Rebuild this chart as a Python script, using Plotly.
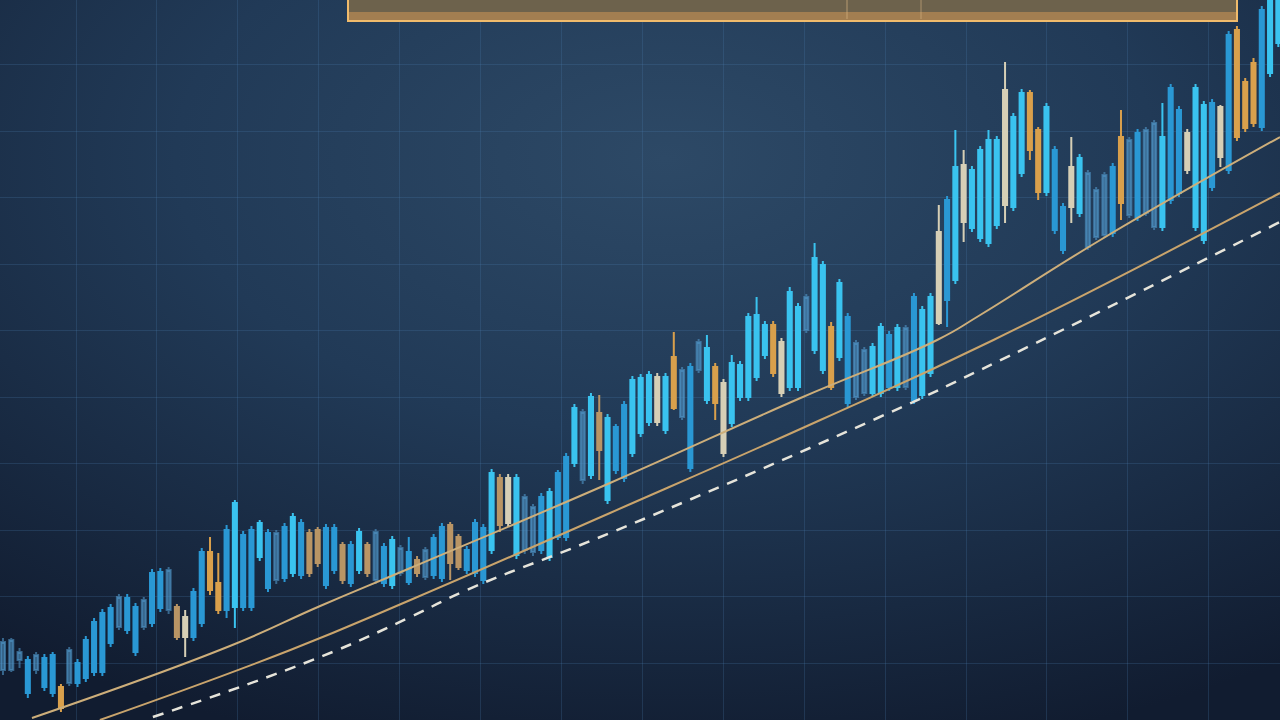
import base64
import plotly.graph_objects as go

# ---------------- data (price units) ----------------
opens = [50, 50, 60, 27, 50, 33, 27, 12, 37, 37,
         42, 48, 48, 77, 93, 90, 68, 93, 97, 112,
         110, 83, 83, 83, 97, 130, 110, 110, 113, 113,
         113, 163, 132, 140, 142, 147, 145, 147, 157, 135,
         150, 140, 137, 150, 147, 140, 137, 135, 147, 138,
         147, 143, 145, 142, 157, 153, 150, 147, 140, 170,
         195, 197, 165, 170, 168, 170, 163, 183, 183, 257,
         240, 245, 270, 220, 250, 242, 267, 287, 298, 298,
         290, 312, 303, 252, 350, 320, 317, 267, 297, 323,
         323, 343, 365, 347, 327, 333, 333, 390, 370, 350,
         333, 363, 317, 323, 327, 327, 327, 333, 333, 333,
         320, 325, 347, 397, 420, 440, 498, 492, 482, 477,
         495, 515, 513, 547, 570, 528, 528, 490, 470, 513,
         507, 473, 483, 485, 487, 517, 505, 503, 507, 493,
         493, 520, 527, 550, 493, 480, 533, 563, 550, 583,
         592, 597, 593, 647, 677]
closes = [78, 80, 68, 60, 65, 62, 65, 33, 70, 57,
          80, 98, 107, 112, 123, 122, 113, 120, 147, 148,
          150, 113, 103, 128, 168, 168, 137, 190, 217, 185,
          190, 197, 187, 187, 193, 203, 197, 187, 190, 192,
          192, 175, 175, 188, 175, 188, 173, 180, 172, 168,
          160, 170, 182, 193, 195, 183, 170, 197, 192, 247,
          242, 242, 242, 223, 213, 223, 228, 247, 263, 312,
          308, 323, 307, 302, 293, 315, 340, 342, 345, 343,
          343, 363, 350, 353, 378, 372, 353, 337, 357, 355,
          403, 405, 395, 395, 378, 428, 413, 423, 462, 455,
          393, 437, 403, 377, 370, 373, 393, 385, 392, 392,
          423, 410, 423, 488, 520, 553, 555, 550, 570, 580,
          580, 630, 603, 627, 627, 590, 613, 570, 513, 553,
          562, 547, 530, 545, 553, 583, 580, 587, 590, 597,
          583, 632, 610, 587, 632, 615, 617, 613, 685, 690,
          638, 657, 710, 720, 722]
highs = [82, 82, 72, 64, 68, 66, 68, 36, 73, 61,
         84, 102, 111, 116, 126, 126, 117, 123, 151, 152,
         153, 116, 110, 132, 172, 183, 167, 195, 220, 189,
         194, 200, 191, 190, 197, 207, 201, 191, 193, 196,
         196, 178, 179, 192, 178, 191, 177, 184, 175, 183,
         164, 173, 186, 197, 198, 186, 174, 201, 196, 251,
         246, 246, 246, 226, 216, 227, 232, 250, 267, 316,
         311, 327, 325, 306, 296, 319, 344, 346, 349, 347,
         347, 388, 353, 357, 381, 385, 357, 341, 365, 359,
         407, 423, 399, 399, 382, 433, 417, 426, 477, 459,
         398, 441, 407, 380, 373, 377, 397, 389, 396, 395,
         427, 414, 427, 515, 524, 590, 570, 554, 574, 590,
         584, 658, 607, 631, 630, 593, 617, 574, 517, 583,
         566, 550, 533, 548, 557, 610, 583, 591, 593, 600,
         617, 636, 614, 591, 636, 619, 621, 615, 689, 694,
         642, 662, 714, 724, 726]
lows = [45, 48, 52, 22, 46, 29, 23, 8, 34, 33,
        38, 44, 44, 73, 90, 86, 64, 90, 93, 108,
        106, 80, 63, 79, 93, 125, 106, 102, 92, 109,
        109, 159, 128, 136, 138, 143, 141, 143, 153, 131,
        146, 136, 133, 146, 143, 136, 133, 131, 144, 135,
        143, 140, 141, 138, 140, 150, 146, 143, 136, 166,
        188, 193, 161, 166, 164, 166, 159, 180, 179, 253,
        236, 241, 240, 216, 246, 238, 263, 283, 294, 294,
        286, 310, 300, 248, 347, 316, 300, 263, 293, 319,
        319, 339, 361, 343, 323, 329, 329, 387, 366, 346,
        330, 359, 313, 320, 324, 323, 323, 329, 329, 330,
        316, 321, 343, 395, 393, 436, 478, 488, 478, 473,
        491, 497, 509, 543, 560, 520, 524, 486, 466, 497,
        503, 470, 480, 482, 483, 500, 502, 499, 504, 490,
        489, 516, 523, 546, 489, 476, 529, 553, 546, 579,
        588, 593, 589, 643, 673]
# candle colour class: C cyan, B blue, M faint, G gold, T tan, W cream
tones = list(
    "MMMBMBBGMB" "BBBBMBBMBB" "MTWBBGGBCB" "BCBMBCBTTB"
    "BTBCTMBCMB" "TMBBTTBBBC" "TWCMMBCBBC" "MCTCBBCCCW"
    "CGMBMCGWCC" "CCCGWCCMCC" "GCBMMCCBCM" "BCCWBCWCCC"
    "CWCCGGCBBW" "CMMMBGMBMM" "CBBWCCBWBG" "GGBCC"
)

# moving-average style guide lines (x in candle index units)
fast_x = [3.5, 27.4, 38.3, 49.2, 73.3, 96.3, 112.8, 118.0, 132.5, 154.2]
fast_y = [2, 74, 114, 152, 237, 322, 380, 405, 480, 583]
slow_x = [11.7, 34.7, 49.2, 73.3, 98.7, 119.6, 154.2]
slow_y = [0, 70, 120, 207, 300, 380, 527]
trend_x = [18.1, 38.3, 49.2, 56.0, 73.3, 105.6, 118.0, 154.2]
trend_y = [3, 63, 103, 130, 187, 302, 350, 498]

# ---------------- styling ----------------
tone_colors = {
    "M": "rgba(80,150,200,0.6)",
    "B": "#2a98d4",
    "C": "#3ac3ef",
    "T": "#b99565",
    "G": "#d9a04c",
    "W": "#d6cfb6",
}

fig = go.Figure()

idx = list(range(len(opens)))
for tone, col in tone_colors.items():
    sel = [i for i in idx if tones[i] == tone]
    if not sel:
        continue
    fig.add_trace(go.Candlestick(
        x=sel,
        open=[opens[i] for i in sel],
        high=[highs[i] for i in sel],
        low=[lows[i] for i in sel],
        close=[closes[i] for i in sel],
        increasing=dict(line=dict(color=col, width=2), fillcolor=col),
        decreasing=dict(line=dict(color=col, width=2), fillcolor=col),
        whiskerwidth=0,
        showlegend=False,
        hoverinfo="skip",
    ))

fig.add_trace(go.Scatter(x=fast_x, y=fast_y, mode="lines",
                         line=dict(color="#cdae7a", width=2, shape="spline",
                                   smoothing=1.3),
                         showlegend=False, hoverinfo="skip"))
fig.add_trace(go.Scatter(x=slow_x, y=slow_y, mode="lines",
                         line=dict(color="#c9a46c", width=2, shape="spline",
                                   smoothing=1.3),
                         showlegend=False, hoverinfo="skip"))
fig.add_trace(go.Scatter(x=trend_x, y=trend_y, mode="lines",
                         line=dict(color="#e6e4da", width=2.5, dash="11px,9px",
                                   shape="spline", smoothing=1.3),
                         showlegend=False, hoverinfo="skip"))

# radial background glow
svg = (
    "<svg xmlns='http://www.w3.org/2000/svg' width='1280' height='720'>"
    "<defs><radialGradient id='g' cx='0.52' cy='0.22' r='0.85'>"
    "<stop offset='0' stop-color='#2d4966'/>"
    "<stop offset='0.45' stop-color='#213a57'/>"
    "<stop offset='1' stop-color='#111c30'/>"
    "</radialGradient></defs>"
    "<rect width='1280' height='720' fill='url(#g)'/></svg>"
)
bg_src = "data:image/svg+xml;base64," + base64.b64encode(svg.encode()).decode()

grid = "rgba(75,125,175,0.24)"
fig.update_layout(
    width=1280, height=720, autosize=False,
    margin=dict(l=0, r=0, t=0, b=0),
    paper_bgcolor="#172840",
    plot_bgcolor="rgba(0,0,0,0)",
    images=[dict(source=bg_src, xref="paper", yref="paper", x=0, y=1,
                 sizex=1, sizey=1, sizing="stretch", layer="below")],
    xaxis=dict(range=[-0.36, 154.2], showgrid=True, gridcolor=grid, gridwidth=1,
               tick0=8.82, dtick=9.77, showticklabels=False, zeroline=False,
               rangeslider=dict(visible=False), fixedrange=True,
               showline=False, ticks=""),
    yaxis=dict(range=[0, 720], showgrid=True, gridcolor=grid, gridwidth=1,
               tick0=57, dtick=66.5, showticklabels=False, zeroline=False,
               fixedrange=True, showline=False, ticks=""),
    shapes=[
        dict(type="rect", xref="paper", yref="paper",
             x0=348 / 1280, x1=1237 / 1280, y0=1 - 21 / 720, y1=1.02,
             fillcolor="#6d624c", line=dict(width=0), layer="above"),
        dict(type="rect", xref="paper", yref="paper",
             x0=348 / 1280, x1=1237 / 1280, y0=1 - 21 / 720, y1=1 - 12 / 720,
             fillcolor="rgba(205,150,85,0.55)", line=dict(width=0), layer="above"),
        dict(type="rect", xref="paper", yref="paper",
             x0=348 / 1280, x1=1237 / 1280, y0=1 - 21 / 720, y1=1.02,
             fillcolor="rgba(0,0,0,0)", line=dict(color="#f0bb6c", width=2),
             layer="above"),
        dict(type="line", xref="paper", yref="paper",
             x0=847 / 1280, x1=847 / 1280, y0=1 - 19 / 720, y1=1,
             line=dict(color="rgba(215,180,130,0.7)", width=1), layer="above"),
        dict(type="line", xref="paper", yref="paper",
             x0=921 / 1280, x1=921 / 1280, y0=1 - 19 / 720, y1=1,
             line=dict(color="rgba(215,180,130,0.6)", width=1), layer="above"),
    ],
)

fig.write_html("out.html", config=dict(displayModeBar=False, staticPlot=True),
               post_script="document.body.style.margin='0';document.body.style.overflow='hidden';")
